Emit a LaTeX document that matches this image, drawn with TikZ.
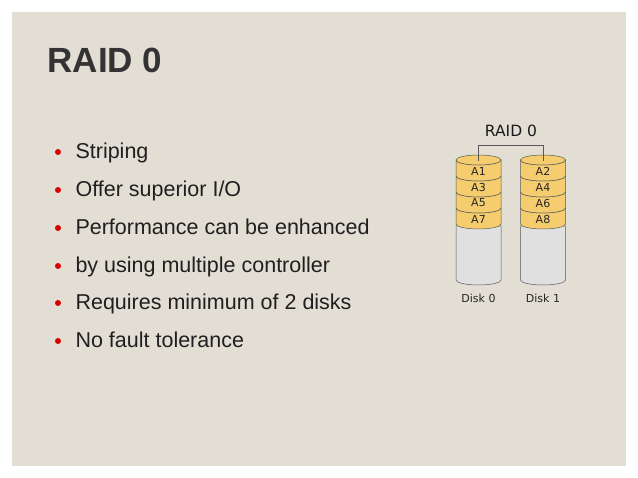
\documentclass[tikz,border=0pt]{standalone}
\usepackage{fontspec}
\setmainfont{Liberation Sans}
\newfontfamily\dvs{DejaVu Sans}
\begin{document}
\begin{tikzpicture}[x=1pt,y=-1pt,
  bul/.style={anchor=base west,font=\fontsize{21.5}{24}\selectfont,text=black!88},
  dot/.style={circle,fill=red!85!black,inner sep=0,minimum size=6},
  dl/.style={font=\dvs\fontsize{11}{12}\selectfont,text=black!85},
  band/.style={draw=black!65,line width=0.5,fill={rgb,255:red,245;green,205;blue,110}}]
\useasboundingbox (0,0) rectangle (638,478);
\fill[white] (0,0) rectangle (638,478);
\fill[fill={rgb,255:red,227;green,222;blue,211}] (12,12) rectangle (626,466);
\node[anchor=base west,font=\bfseries\fontsize{35}{40}\selectfont,text=black!80] (t) at (44,73) {RAID 0};
\foreach \y/\s [count=\i] in {159/Striping,197/{Offer superior I/O},235/Performance can be enhanced,273/by using multiple controller,310/Requires minimum of 2 disks,348/No fault tolerance}{
  \node[dot] (d\i) at (58,\y-7) {};
  \node[bul] (b\i) at (72,\y) {\s};
}
% disks
\foreach \cx/\n/\la/\lb/\lc/\ld in {478.5/0/A1/A3/A5/A7,543/1/A2/A4/A6/A8}{
  \fill[black!12,draw=black!65,line width=0.5] (\cx-22.5,226) -- (\cx-22.5,280) arc[start angle=180,end angle=0,x radius=22.5,y radius=5] -- (\cx+22.5,226) -- cycle;
  \foreach \yy/\t in {224/\ld,208/\lc,192/\lb,176/\la}{
    \path[band] (\cx-22.5,\yy-16) arc[start angle=180,end angle=0,x radius=22.5,y radius=5] -- (\cx+22.5,\yy) arc[start angle=0,end angle=180,x radius=22.5,y radius=5] -- cycle;
    \node[dl] at (\cx,\yy-5) {\t};
  }
  \draw[band] (\cx,160) ellipse[x radius=22.5,y radius=5];
  \node[dl] (disk\n) at (\cx,298) {Disk \n};
  \coordinate (top\n) at (\cx,161);
}
\node[font=\dvs\fontsize{15.5}{18}\selectfont,text=black!90] (r) at (511,131) {RAID 0};
\draw[black!65,line width=0.6] (top0) -- (478.5,145) -- (543,145) -- (top1);
\end{tikzpicture}
\end{document}
